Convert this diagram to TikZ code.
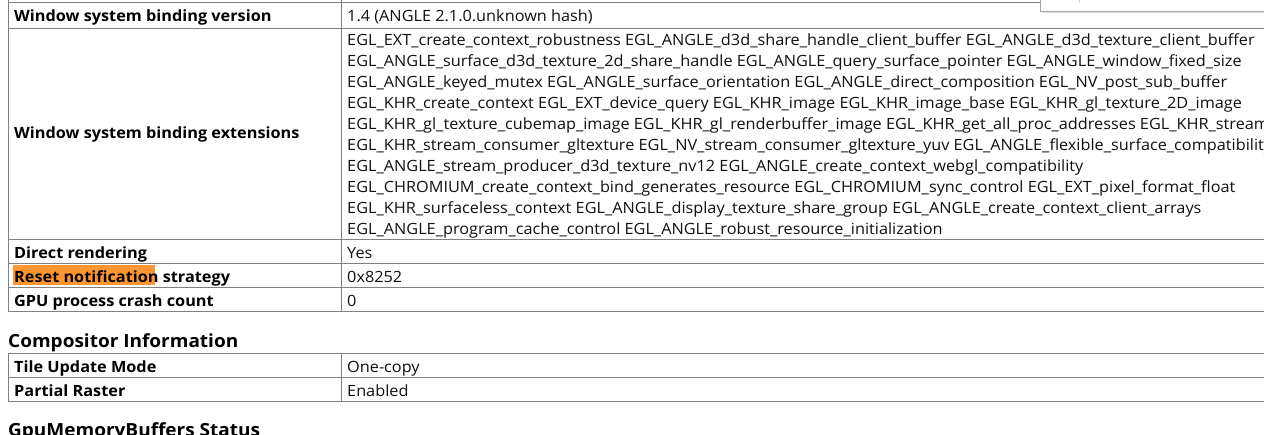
\documentclass[tikz,border=0pt]{standalone}
\usepackage{fontspec}
\setmainfont{Open Sans}[FakeStretch=1.05]
\definecolor{gridline}{HTML}{808080}
\definecolor{findhl}{HTML}{FF9632}
\definecolor{txt}{HTML}{111111}
\begin{document}
\begin{tikzpicture}[x=1pt,y=-1pt,
  lbl/.style={anchor=base west,inner sep=0pt,font=\fontsize{15.5}{18}\selectfont\bfseries,text=black},
  val/.style={anchor=base west,inner sep=0pt,font=\fontsize{15.5}{18}\selectfont,text=txt},
  head/.style={anchor=base west,inner sep=0pt,font=\fontsize{18.1}{22}\selectfont\bfseries,text=black},
  grid/.style={draw=gridline,line width=1pt}]
\useasboundingbox (0,0) rectangle (1264,434);
\clip (0,0) rectangle (1264,434);
\fill[white] (0,0) rectangle (1264,434);
% table 1 rules
\draw[grid] (8,2.5) -- (1270,2.5);
\draw[grid] (8,28) -- (1270,28);
\draw[grid] (8,239.5) -- (1270,239.5);
\draw[grid] (8,263.5) -- (1270,263.5);
\draw[grid] (8,287.5) -- (1270,287.5);
\draw[grid] (8,311) -- (1270,311);
\draw[grid] (8,0) -- (8,311);
\draw[grid] (341.5,0) -- (341.5,311);
% table 2 rules
\draw[grid] (8,353) -- (1270,353);
\draw[grid] (8,377) -- (1270,377);
\draw[grid] (8,401) -- (1270,401);
\draw[grid] (8,353) -- (8,401);
\draw[grid] (341.5,353) -- (341.5,401);
% find highlight
\fill[findhl] (13,265) rectangle (155,284.5);
% labels
\node[lbl] (l1) at (14,21) {Window system binding version};
\node[lbl] (l2) at (14,138.5) {Window system binding extensions};
\node[lbl] (l3) at (14,258) {Direct rendering};
\node[lbl] (l4) at (14,282) {Reset notification strategy};
\node[lbl] (l5) at (14,306) {GPU process crash count};
\node[lbl] (l6) at (14,372) {Tile Update Mode};
\node[lbl] (l7) at (14,396) {Partial Raster};
% values
\node[val] (v1) at (347,21) {1.4 (ANGLE 2.1.0.unknown hash)};
\node[val] (e1) at (347,45.3) {EGL\_EXT\_create\_context\_robustness EGL\_ANGLE\_d3d\_share\_handle\_client\_buffer EGL\_ANGLE\_d3d\_texture\_client\_buffer};
\node[val] (e2) at (347,66.3) {EGL\_ANGLE\_surface\_d3d\_texture\_2d\_share\_handle EGL\_ANGLE\_query\_surface\_pointer EGL\_ANGLE\_window\_fixed\_size};
\node[val] (e3) at (347,87.3) {EGL\_ANGLE\_keyed\_mutex EGL\_ANGLE\_surface\_orientation EGL\_ANGLE\_direct\_composition EGL\_NV\_post\_sub\_buffer};
\node[val] (e4) at (347,108.3) {EGL\_KHR\_create\_context EGL\_EXT\_device\_query EGL\_KHR\_image EGL\_KHR\_image\_base EGL\_KHR\_gl\_texture\_2D\_image};
\node[val] (e5) at (347,129.3) {EGL\_KHR\_gl\_texture\_cubemap\_image EGL\_KHR\_gl\_renderbuffer\_image EGL\_KHR\_get\_all\_proc\_addresses EGL\_KHR\_stream};
\node[val] (e6) at (347,150.3) {EGL\_KHR\_stream\_consumer\_gltexture EGL\_NV\_stream\_consumer\_gltexture\_yuv EGL\_ANGLE\_flexible\_surface\_compatibility};
\node[val] (e7) at (347,171.3) {EGL\_ANGLE\_stream\_producer\_d3d\_texture\_nv12 EGL\_ANGLE\_create\_context\_webgl\_compatibility};
\node[val] (e8) at (347,192.3) {EGL\_CHROMIUM\_create\_context\_bind\_generates\_resource EGL\_CHROMIUM\_sync\_control EGL\_EXT\_pixel\_format\_float};
\node[val] (e9) at (347,213.3) {EGL\_KHR\_surfaceless\_context EGL\_ANGLE\_display\_texture\_share\_group EGL\_ANGLE\_create\_context\_client\_arrays};
\node[val] (e10) at (347,234.3) {EGL\_ANGLE\_program\_cache\_control EGL\_ANGLE\_robust\_resource\_initialization};
\node[val] (v3) at (347,258) {Yes};
\node[val] (v4) at (347,282) {0x8252};
\node[val] (v5) at (347,306) {0};
\node[val] (v6) at (347,372) {One-copy};
\node[val] (v7) at (347,396) {Enabled};
% headings
\node[head] (h1) at (8,347.3) {Compositor Information};
\node[head] (h2) at (8,436) {GpuMemoryBuffers Status};
% popup at top right
\fill[black!12] (1041.5,-5) rectangle (1270,12.5);
\filldraw[fill=white,draw=black!35] (1040,-5) rectangle (1270,11);
\draw[black!15] (1079,0) -- (1079,3);
\end{tikzpicture}
\end{document}
